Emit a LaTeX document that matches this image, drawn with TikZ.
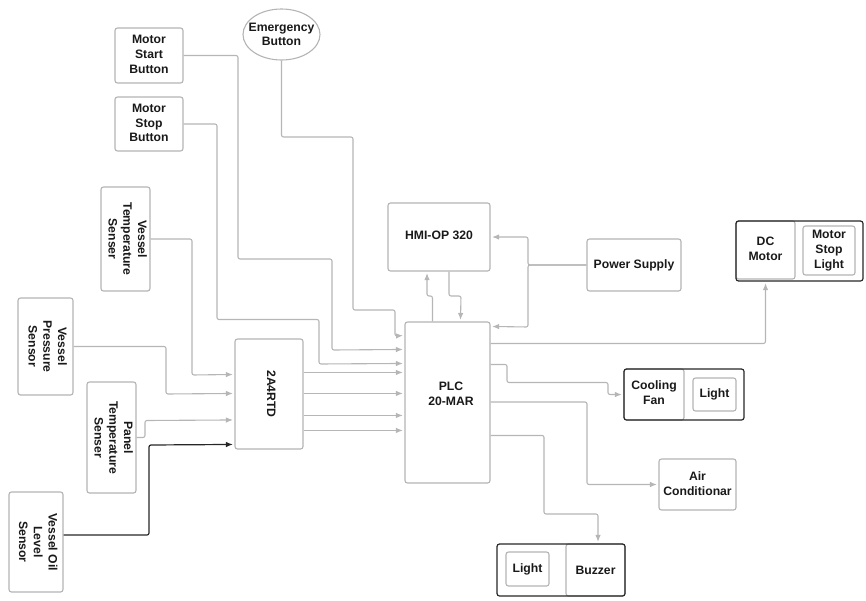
\documentclass[tikz,border=0pt]{standalone}
\usepackage{fontspec}
\setmainfont{Liberation Sans}
\usetikzlibrary{shapes.geometric,arrows.meta}
\newcommand{\liftnode}[1]{\\[#1]\mbox{}}

\begin{document}
\begin{tikzpicture}[
    x=1pt,
    y=-1pt,
    box/.style={
        rectangle,
        draw=boxgray,
        line width=1.1pt,
        inner sep=0pt,
        align=center,
        rounded corners=2.5pt
    },
    sidebox/.style={
        box,
        rotate=-90
    },
    frame/.style={
        rectangle,
        draw=black!85,
        line width=1.2pt,
        inner sep=0pt,
        rounded corners=2.5pt
    },
    arrow/.style={
        -{Latex[length=7pt,width=5.5pt]},
        draw=linegray,
        line width=1.1pt,
        rounded corners=2pt,
        shorten >=1.5pt
    },
    every node/.style={
        font=\fontsize{12.2}{14.7}\selectfont\bfseries,
        text=black!90
    }
]

% Color Palette
\definecolor{boxgray}{HTML}{B4B4B4}
\definecolor{linegray}{HTML}{B6B6B6}

\useasboundingbox (0,0) rectangle (866,600);

% Buttons
\node[box, minimum width=68pt, minimum height=55pt] (mstart) at (149,55.5) {Motor\\Start\\Button\liftnode{-12.5pt}};
\node[box, minimum width=68pt, minimum height=54pt] (mstop) at (149,124) {Motor\\Stop\\Button\liftnode{-12.5pt}};
\node[box, ellipse, inner xsep=-7pt, minimum width=77pt, minimum height=51pt] (emg) at (281.5,34.5) {Emergency\\Button};

% Sensors
\node[sidebox, minimum width=104pt, minimum height=49pt] (vtemp) at (125.5,239) {Vessel\\Temperature\\Senser\liftnode{-10pt}};
\node[sidebox, minimum width=97pt, minimum height=55pt] (vpress) at (45.5,346.5) {Vessel\\Pressure\\Sensor\liftnode{-10pt}};
\node[sidebox, minimum width=111pt, minimum height=49pt] (ptemp) at (111.5,437.5) {Panel\\Temperature\\Senser\liftnode{-10pt}};
\node[sidebox, minimum width=100pt, minimum height=54pt] (voil) at (36,542) {Vessel Oil\\Level\\Sensor\liftnode{-10pt}};

% Controllers
\node[sidebox, minimum width=110pt, minimum height=68pt] (rtd) at (269,394) {2A4RTD\liftnode{-10pt}};
\node[box, minimum width=85pt, minimum height=161pt] (plc) at (447.5,402.5) {\hspace*{7pt}PLC\\\hspace*{7pt}20-MAR\liftnode{2.6pt}};
\node[box, minimum width=102pt, minimum height=68pt] (hmi) at (439,237) {HMI-OP 320\liftnode{-11pt}};
\node[box, minimum width=94pt, minimum height=52pt] (power) at (634,265) {Power Supply};

% Outputs
\node[box, minimum width=59pt, minimum height=58pt] (dc) at (765.5,250) {DC\\Motor\liftnode{-12.5pt}};
\node[box, minimum width=52pt, minimum height=49pt] (stoplight) at (829,250.5) {Motor\\Stop\\Light};
\node[frame, minimum width=127pt, minimum height=60pt] (dcframe) at (799.5,251) {};

\node[box, minimum width=60pt, minimum height=51pt] (fan) at (654,394.5) {Cooling\\Fan\liftnode{-10.5pt}};
\node[box, minimum width=43pt, minimum height=33pt] (fanlight) at (714.5,394.5) {Light};
\node[frame, minimum width=120pt, minimum height=51pt] (fanframe) at (684,394.5) {};

\node[box, minimum width=77pt, minimum height=51pt] (air) at (697.5,484.5) {Air\\Conditionar\liftnode{-12.5pt}};

\node[box, minimum width=59pt, minimum height=52pt] (buzzer) at (595.5,570) {Buzzer};
\node[box, minimum width=43pt, minimum height=34pt] (buzlight) at (527.5,569) {Light};
\node[frame, minimum width=128pt, minimum height=52pt] (buzframe) at (561,570) {};

% Arrows into PLC
\draw[arrow] (emg.south) |- (353,137) -- (353,310) -| (395,336) -- ([yshift=-14pt]plc.north west);
\draw[arrow] (mstart.east) -| (238,259) -| (332,350) -- ([yshift=-28pt]plc.north west);
\draw[arrow] (mstop.east) -| (217,319.5) -| (319,364) -- ([yshift=-42pt]plc.north west);

% Arrows into 2A4RTD (rotated node: south west is its top left)
\draw[arrow] (vtemp.north) -| (192,375) -- ([yshift=-36pt]rtd.south west);
\draw[arrow] (vpress.north) -| (166,394) -- ([yshift=-55pt]rtd.south west);
\draw[arrow] (ptemp.north) -| (145,420.5) -- ([yshift=-81.5pt]rtd.south west);
\draw[arrow, draw=black!85, line width=1.2pt] ([yshift=7pt]voil.north) -| (149,445) -- ([yshift=-106pt]rtd.south west);

% 2A4RTD to PLC
\draw[arrow] ([yshift=-34pt]rtd.north west) -- ([yshift=-51pt]plc.north west);
\draw[arrow] ([yshift=-55pt]rtd.north west) -- ([yshift=-72pt]plc.north west);
\draw[arrow] ([yshift=-77pt]rtd.north west) -- ([yshift=-94pt]plc.north west);
\draw[arrow] ([yshift=-92pt]rtd.north west) -- ([yshift=-109pt]plc.north west);

% HMI and Power Supply
\draw[arrow] ([xshift=28pt]plc.north west) |- (427,296) -- ([xshift=-12pt]hmi.south);
\draw[arrow] ([xshift=10pt]hmi.south) |- (461,296) -- ([xshift=56pt]plc.north west);
\draw[arrow] (power.west) -| (528,237) -- (hmi.east);
\draw[arrow] (power.west) -| (528,327) -- ([yshift=-5pt]plc.north east);

% Arrows out of PLC
\draw[arrow] ([yshift=-22pt]plc.north east) -| ([xshift=-34pt]dcframe.south);
\draw[arrow] ([yshift=-43pt]plc.north east) -| (507,382.5) -| (608,394.5) -- (fanframe.west);
\draw[arrow] ([yshift=-80.5pt]plc.north east) -| (587,484.5) -- (air.west);
\draw[arrow] ([yshift=-114pt]plc.north east) -| (544,514) -| ([xshift=37pt]buzframe.north);

\end{tikzpicture}
\end{document}
